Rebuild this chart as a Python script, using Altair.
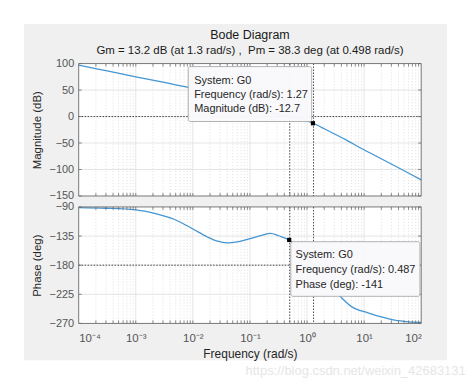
import json
import altair as alt
import pandas as pd

FONT = "Liberation Sans"

# ---- data ----
mag_freq = [1e-4, 3.16e-4, 1e-3, 3.16e-3, 8.3e-3, 0.0316, 0.1, 0.316, 1.0, 1.27, 2.0, 3.16, 5.0, 7.9, 15.8, 31.6, 63.1, 100.0]
mag_db = [97, 86, 75, 64.5, 55, 37, 19, 4, -8, -12.7, -23, -34, -45, -57, -74, -91, -108, -119.5]

ph_freq = [1e-4, 3e-4, 1e-3, 2.4e-3, 4.7e-3, 0.01, 0.018, 0.027, 0.04, 0.06, 0.1, 0.16, 0.23, 0.316, 0.487,
           0.7, 1.0, 1.3, 2.0, 2.8, 3.8, 6.0, 11.7, 20.0, 34.3, 60.0, 100.0]
ph_deg = [-91, -92, -94.5, -101, -109, -124, -136.5, -143, -145.5, -144, -139, -134, -131, -134.5, -141,
          -153, -167, -180, -200, -215, -228, -244, -253.6, -260, -265, -267.5, -268.5]

gm_freq = 1.3
pm_freq = 0.498
tip_mag = {"f": 1.27, "v": -12.7}
tip_ph = {"f": 0.487, "v": -141}
tip_mag_lines = ["System: G0", "Frequency (rad/s): 1.27", "Magnitude (dB): -12.7"]
tip_ph_lines = ["System: G0", "Frequency (rad/s): 0.487", "Phase (deg): -141"]

title_text = "Bode Diagram"
subtitle_text = "Gm = 13.2 dB (at 1.3 rad/s) ,\u00a0 Pm = 38.3 deg (at 0.498 rad/s)"
x_ticks = [1e-4, 1e-3, 1e-2, 1e-1, 1e0, 1e1, 1e2]
x_tick_labels = ["10\u207b\u2074", "10\u207b\u00b3", "10\u207b\u00b2", "10\u207b\u00b9", "10\u2070", "10\u00b9", "10\u00b2"]
mag_ticks = [-150, -100, -50, 0, 50, 100]
ph_ticks = [-270, -225, -180, -135, -90]
watermark = "https://blog.csdn.net/weixin_42683131"

# ---- styling ----
LINE = "#4496d3"
GRID = "#dedede"
MINOR = "#d2d2d2"
BOX = "#6a6a6a"
BG = "#f0f0f0"

minor_f = [k * 10.0 ** d for d in range(-4, 2) for k in range(2, 10)]
major_f = x_ticks[1:-1]

xs = alt.Scale(type="log", domain=[1e-4, 100], nice=False)
label_expr = "%s[round(log(datum.value)/LN10)+4]" % json.dumps(x_tick_labels)


def panel(ydom, yticks, ytitle, line_f, line_v, tip, tip_lines, tip_box, tip_text_y, hline,
          bg_y, show_x, h, tick_len, extra=None):
    ys = alt.Scale(domain=ydom, nice=False, zero=False)
    yaxis = alt.Axis(values=yticks, grid=False, domain=False, ticks=False, labelPadding=5,
                     labelFontSize=11, labelFont=FONT, labelColor="#555555", title=ytitle,
                     titleFont=FONT, titleFontSize=11.5, titleFontWeight="normal",
                     titleColor="#262626", titlePadding=7, zindex=1)
    if show_x:
        xaxis = alt.Axis(values=x_ticks, labelExpr=label_expr, grid=False, domain=False, ticks=False,
                         labelPadding=9, labelFontSize=11.5, labelFont=FONT, labelColor="#555555",
                         title="Frequency  (rad/s)", titleFont=FONT, titleFontSize=12,
                         titleFontWeight="normal", titleColor="#262626", titlePadding=5, zindex=1)
    else:
        xaxis = None

    def X(field="f"):
        return alt.X(field, type="quantitative", scale=xs, axis=xaxis,
                     title="Frequency  (rad/s)" if show_x else None)

    def Y(field="v"):
        return alt.Y(field, type="quantitative", scale=ys, axis=yaxis, title=ytitle)

    bg = alt.Chart(pd.DataFrame({"f": [1.1e-5], "f2": [284.0], "v": [bg_y[0]], "v2": [bg_y[1]]})).mark_rect(
        fill=BG, strokeWidth=0).encode(x=X(), x2="f2", y=Y(), y2="v2")
    plot = alt.Chart(pd.DataFrame({"f": [1e-4], "f2": [100.0], "v": [ydom[1]], "v2": [ydom[0]]})).mark_rect(
        fill="white", strokeWidth=0).encode(x=X(), x2="f2", y=Y(), y2="v2")
    vd = pd.DataFrame({"f": minor_f, "v": [ydom[1]] * len(minor_f), "v2": [ydom[0]] * len(minor_f)})
    minor = alt.Chart(vd).mark_rule(color=MINOR, strokeWidth=0.7, strokeDash=[1, 2]).encode(
        x=X(), y=Y(), y2="v2")
    md = pd.DataFrame({"f": major_f, "v": [ydom[1]] * len(major_f), "v2": [ydom[0]] * len(major_f)})
    major = alt.Chart(md).mark_rule(color=GRID, strokeWidth=0.8).encode(x=X(), y=Y(), y2="v2")
    hv = [t for t in yticks if t not in ydom]
    hd = pd.DataFrame({"f": [1e-4] * len(hv), "f2": [100.0] * len(hv), "v": hv})
    hgrid = alt.Chart(hd).mark_rule(color=GRID, strokeWidth=0.8).encode(x=X(), x2="f2", y=Y())
    mv = pd.DataFrame({"f": [pm_freq, gm_freq], "v": [ydom[1]] * 2, "v2": [ydom[0]] * 2})
    mvert = alt.Chart(mv).mark_rule(color="#333333", strokeWidth=0.9, strokeDash=[1.5, 1.5]).encode(
        x=X(), y=Y(), y2="v2")
    mh = pd.DataFrame({"f": [1e-4], "f2": [100.0], "v": [hline]})
    mhor = alt.Chart(mh).mark_rule(color="#333333", strokeWidth=0.9, strokeDash=[1.5, 1.5]).encode(
        x=X(), x2="f2", y=Y())
    line = alt.Chart(pd.DataFrame({"f": line_f, "v": line_v})).mark_line(
        color=LINE, strokeWidth=1.3, interpolate="monotone").encode(x=X(), y=Y())
    frame = alt.Chart(pd.DataFrame({"f": [1e-4], "f2": [100.0], "v": [ydom[1]], "v2": [ydom[0]]})).mark_rect(
        fillOpacity=0, stroke=BOX, strokeWidth=0.9).encode(x=X(), x2="f2", y=Y(), y2="v2")
    # inward box ticks along the top and bottom edges (major + minor decades)
    tf = minor_f + major_f
    tick_df = pd.DataFrame({
        "f": tf + tf,
        "v": [ydom[0]] * len(tf) + [ydom[1]] * len(tf),
        "v2": [ydom[0] + tick_len] * len(tf) + [ydom[1] - tick_len] * len(tf),
    })
    xt = alt.Chart(tick_df).mark_rule(color=BOX, strokeWidth=0.8).encode(x=X(), y=Y(), y2="v2")
    yt_df = pd.DataFrame({
        "f": [1e-4] * len(yticks) + [100.0] * len(yticks),
        "f2": [1.13e-4] * len(yticks) + [88.5] * len(yticks),
        "v": yticks + yticks,
    })
    yt = alt.Chart(yt_df).mark_rule(color=BOX, strokeWidth=0.8).encode(x=X(), x2="f2", y=Y())
    dot = alt.Chart(pd.DataFrame([tip])).mark_point(filled=True, color="black", size=18, opacity=1,
                                                   shape="square").encode(x=X(), y=Y())
    box = alt.Chart(pd.DataFrame({"f": [tip_box[0]], "f2": [tip_box[1]], "v": [tip_box[2]], "v2": [tip_box[3]]})).mark_rect(
        fill="#f9f9fc", stroke="#a8a8a8", strokeWidth=0.9, cornerRadius=2, opacity=0.97).encode(
        x=X(), x2="f2", y=Y(), y2="v2")
    txt = alt.Chart(pd.DataFrame({"f": [tip_box[4]] * 3, "v": tip_text_y, "t": tip_lines})).mark_text(
        align="left", baseline="middle", font=FONT, fontSize=11, color="#262626").encode(
        x=X(), y=Y(), text="t:N")
    layers = [bg, plot, minor, major, hgrid, mvert, mhor, line, frame, xt, yt, dot, box, txt]
    if extra is not None:
        layers.append(extra(X, Y))
    return alt.layer(*layers).properties(width=344, height=h)


top = panel([-150, 100], mag_ticks, "Magnitude (dB)", mag_freq, mag_db, tip_mag, tip_mag_lines,
            [8.3e-3, 1.207, 94.3, -9.4, 0.01055], [67.4, 40.9, 14.0], 0, [174.9, -160.8], False, 133, 5.6)
top = top.properties(title=alt.TitleParams(title_text, subtitle=subtitle_text, frame="group",
                                           anchor="middle", font=FONT, fontSize=12.5,
                                           fontWeight="normal", color="#1a1a1a",
                                           subtitleFont=FONT, subtitleFontSize=11.5,
                                           subtitleColor="#1a1a1a", subtitlePadding=4, offset=-33))


def wm(X, Y):
    return alt.Chart(pd.DataFrame({"f": [7.1], "v": [-343.7], "t": [watermark]})).mark_text(
        align="center", baseline="middle", font=FONT, fontSize=13, color="#e6e6e6").encode(
        x=X(), y=Y(), text="t:N")


bottom = panel([-270, -90], ph_ticks, "Phase (deg)", ph_freq, ph_deg, tip_ph, tip_ph_lines,
               [0.519, 95.1, -143.7, -228.1, 0.631], [-164.1, -187.1, -211.2], -180, [-81.2, -326.8],
               True, 117, 4.6, extra=wm)

chart = alt.vconcat(top, bottom, spacing=11, bounds="flush").properties(
    padding={"left": 16, "top": 15, "right": 0, "bottom": 0}, background="white"
).configure_view(stroke=None)

chart.save("out.html", embed_options={"renderer": "svg", "actions": False})
